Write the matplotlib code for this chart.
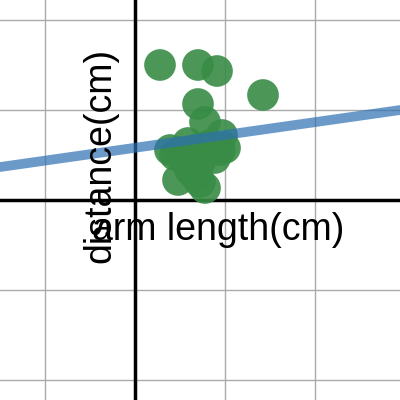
import matplotlib
matplotlib.use("Agg")
import matplotlib.pyplot as plt
import numpy as np

px = [160,198,217,263,198,205,222,188,180,175,195,210,220,185,200,215,190,178,200,205,195,225,170]
py = [65,65,71,95,104,122,135,143,152,155,150,145,150,160,162,158,170,180,182,188,175,148,150]
arm_length = [(p-135)/90 for p in px]
distance = [(200-p)/90 for p in py]
slope, intercept = 0.1425, 0.58

fig = plt.figure(figsize=(4,4), dpi=100)
ax = fig.add_axes([0,0,1,1])
ax.set_xlim(-1.5, 265/90); ax.set_ylim(-200/90, 200/90)
for g in [-1,1,2]:
    ax.axvline(g, color='#aaaaaa', lw=1)
for g in [-2,-1,1,2]:
    ax.axhline(g, color='#aaaaaa', lw=1)
ax.axvline(0, color='black', lw=2.5); ax.axhline(0, color='black', lw=2.5)
ax.scatter(arm_length, distance, s=520, color='#388c46', alpha=0.9, edgecolors='none', zorder=3)
xs = np.array(ax.get_xlim())
ax.plot(xs, slope*xs+intercept, color='#2d70b3', lw=7, alpha=0.7, zorder=4)
ax.text(218/400, 1-230/400, 'arm length(cm)', transform=ax.transAxes, ha='center', va='center', fontsize=27, family='Liberation Sans', zorder=5)
ax.text(100/400, 1-155/400, 'distance(cm)', transform=ax.transAxes, ha='center', va='center', fontsize=27, family='Liberation Sans', rotation=90, zorder=5)
ax.set_xticks([]); ax.set_yticks([])
for s in ax.spines.values(): s.set_visible(False)
fig.savefig('out.png', dpi=100)
